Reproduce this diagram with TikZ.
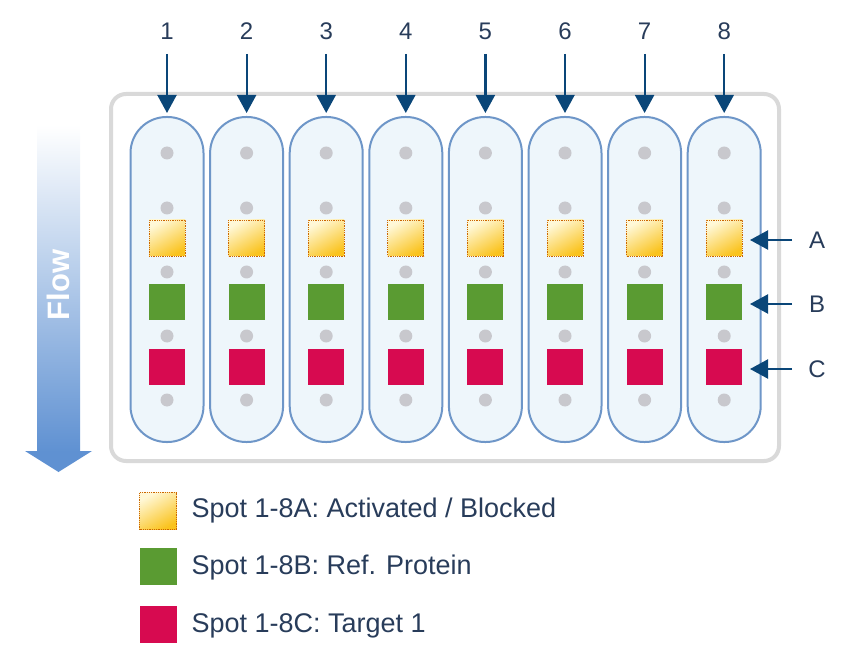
\documentclass[tikz,border=0pt]{standalone}
\usepackage{fontspec}
\setmainfont{Liberation Sans}
\usetikzlibrary{arrows.meta}
\definecolor{dblue}{RGB}{10,70,120}
\definecolor{chfill}{RGB}{238,246,251}
\definecolor{chline}{RGB}{110,150,200}
\definecolor{dotg}{RGB}{200,200,205}
\definecolor{grn}{RGB}{90,155,50}
\definecolor{rd}{RGB}{215,10,80}
\definecolor{yl1}{RGB}{255,248,215}
\definecolor{yl2}{RGB}{250,195,30}
\definecolor{flowb}{RGB}{95,145,210}
\definecolor{txt}{RGB}{40,60,90}
\begin{document}
\begin{tikzpicture}[x=1pt,y=-1pt,
  chan/.style={draw=chline,line width=2pt,fill=chfill,rounded corners=36pt},
  dot/.style={circle,fill=dotg,minimum size=13pt,inner sep=0pt},
  sq/.style={minimum size=36pt,inner sep=0pt},
  sqA/.style={sq,draw=orange!80!black,densely dotted,line width=0.8pt,top color=yl1,bottom color=yl2,shading angle=30},
  sqB/.style={sq,fill=grn},
  sqC/.style={sq,fill=rd},
  arr/.style={-{Triangle[length=18pt,width=19pt]},line width=2.2pt,draw=dblue},
  lab/.style={font=\fontsize{24}{28}\selectfont,text=txt},
  leg/.style={font=\fontsize{27}{30}\selectfont,text=txt,anchor=west}]
\useasboundingbox (0,0) rectangle (860,671);
\draw[line width=4pt,draw=black!15,fill=white,rounded corners=15pt] (111,94) rectangle (779,461);
\shade[top color=white,bottom color=flowb] (37,125) rectangle (80,452);
\fill[flowb] (25,451) -- (92,451) -- (58.5,472) -- cycle;
\node[rotate=90,text=white,font=\bfseries\fontsize{31}{34}\selectfont] (flow) at (58,285) {Flow};
\foreach \i in {1,...,8}{
  \pgfmathsetmacro{\cx}{167+79.6*(\i-1)}
  \draw[chan] (\cx-36.5,117) rectangle (\cx+36.5,442);
  \node[dot] (d1\i) at (\cx,153) {};
  \node[dot] (d2\i) at (\cx,208) {};
  \node[dot] (d3\i) at (\cx,272) {};
  \node[dot] (d4\i) at (\cx,336) {};
  \node[dot] (d5\i) at (\cx,400) {};
  \node[sqA] (a\i) at (\cx,238) {};
  \node[sqB] (b\i) at (\cx,302) {};
  \node[sqC] (c\i) at (\cx,367) {};
  \node[lab] (n\i) at (\cx,31) {\i};
  \coordinate (t\i) at (\cx,113);
  \draw[arr] (\cx,54) -- (t\i);
}
\node[lab] (lA) at (817,240) {A};
\node[lab] (lB) at (817,304) {B};
\node[lab] (lC) at (817,369) {C};
\coordinate (eA) at (750,240);
\coordinate (eB) at (750,304);
\coordinate (eC) at (750,369);
\draw[arr] (792,240) -- (eA);
\draw[arr] (792,304) -- (eB);
\draw[arr] (792,369) -- (eC);
\node[sqA,minimum size=37pt] (kA) at (158,511) {};
\node[sqB,minimum size=37pt] (kB) at (158,566) {};
\node[sqC,minimum size=37pt] (kC) at (158,624) {};
\node[leg] (tA) at (188,511) {Spot 1-8A: Activated / Blocked};
\node[leg] (tB) at (188,568) {Spot 1-8B: Ref. Protein};
\node[leg] (tC) at (188,626) {Spot 1-8C: Target 1};
\end{tikzpicture}
\end{document}
